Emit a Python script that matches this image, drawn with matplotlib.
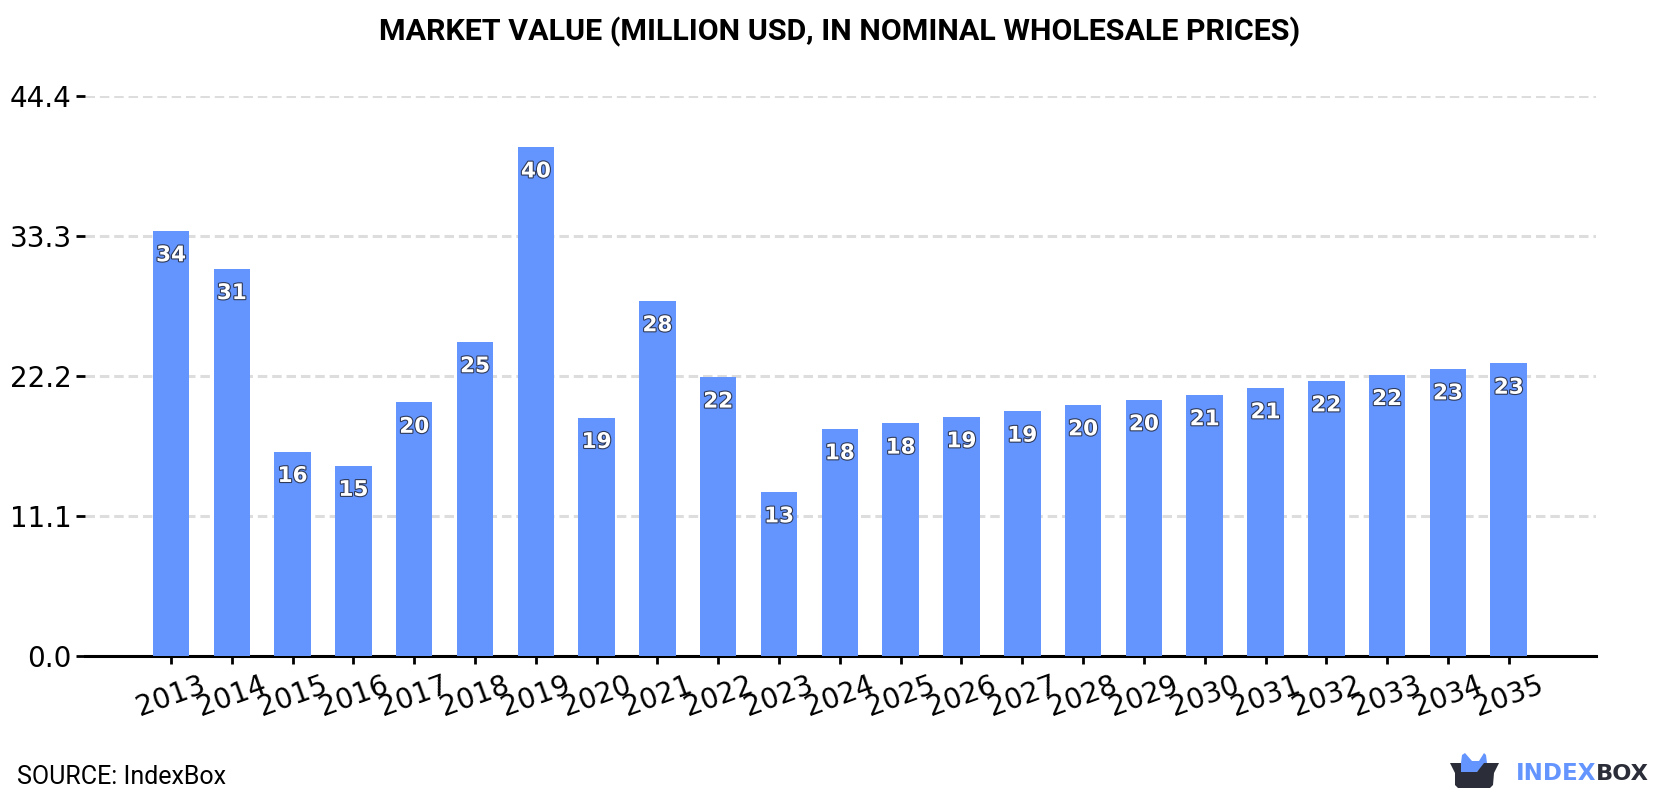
import matplotlib
matplotlib.use("Agg")
import matplotlib.pyplot as plt
import matplotlib.patheffects as pe
from matplotlib.patches import Polygon
from matplotlib.transforms import Affine2D

years = list(range(2013, 2036))
values = [33.7, 30.7, 16.2, 15.1, 20.1, 24.9, 40.35, 18.9, 28.15, 22.1, 13.0, 18.0,
          18.45, 18.95, 19.4, 19.9, 20.3, 20.7, 21.25, 21.8, 22.3, 22.75, 23.2]
y_ticks = [0.0, 11.1, 22.2, 33.3, 44.4]
title = "MARKET VALUE (MILLION USD, IN NOMINAL WHOLESALE PRICES)"
source = "SOURCE: IndexBox"

W, H = 1680, 800
BLUE = "#6495ff"
DARK = "#2b2d38"

fig = plt.figure(figsize=(W / 100, H / 100), dpi=100, facecolor="white")
ax = fig.add_axes([85 / W, 1 - 656 / H, (1596 - 85) / W, (656 - 96) / H])

ax.bar(years, values, width=0.6, color=BLUE, zorder=3)
ax.set_xlim(2013 - 1.414, 2013 + 23.435)
ax.set_ylim(0, 44.4)

ax.set_yticks(y_ticks, [f"{t:.1f}" for t in y_ticks])
ax.set_xticks(years, [str(y) for y in years])
ax.tick_params(axis="y", length=6.5, width=2, labelsize=20, pad=3)
ax.tick_params(axis="x", length=6, width=2, labelsize=20.2, pad=5, labelrotation=20)

ax.grid(axis="y", color="#dddddd", lw=2.2, linestyle=(0, (3.1, 1.6)), zorder=1)
ax.set_axisbelow(True)
for side in ("left", "right", "top"):
    ax.spines[side].set_visible(False)
ax.spines["bottom"].set_linewidth(2.2)

# Rounded value inside each bar, white with a dark outline
for year, value in zip(years, values):
    ax.annotate(f"{value:.0f}", (year, value), xytext=(0, -17.5), textcoords="offset points",
                ha="center", va="center", fontsize=15.5, fontweight="bold", color="white",
                family="DejaVu Sans", zorder=5,
                path_effects=[pe.withStroke(linewidth=1.6, foreground="#2f3a58")])

fig.text(0.5, 1 - 32 / H, title, ha="center", va="center", fontsize=21.9,
         fontweight="bold", family="Roboto", color="black")
fig.text(17 / W, 1 - 777 / H, source, ha="left", va="center", fontsize=18,
         family="Roboto", color="black")

# Brand mark, laid out in pixel coordinates from the top-left corner
to_px = Affine2D().scale(1, -1).translate(0, H)
fig.add_artist(Polygon([(1461, 763), (1462, 755), (1465, 753), (1472, 761), (1479, 761),
                       (1484, 753), (1486, 755), (1487, 763), (1477, 772), (1461, 772)],
                       closed=True, fc=BLUE, ec="none", transform=to_px))
fig.add_artist(Polygon([(1450, 763), (1461, 763), (1461, 772), (1477, 772), (1484, 763),
                       (1499, 763), (1494, 773), (1493, 785), (1490, 788), (1458, 788),
                       (1455, 785), (1455, 773)],
                       closed=True, fc=DARK, ec="none", transform=to_px))
fig.text(1516 / W, 1 - 774 / H, "INDEX", ha="left", va="center", fontsize=16.6,
         fontweight="bold", family="DejaVu Sans", color=BLUE)
fig.text(1596 / W, 1 - 774 / H, "BOX", ha="left", va="center", fontsize=16.2,
         fontweight="bold", family="DejaVu Sans", color=DARK)

fig.savefig("out.png", dpi=100)
